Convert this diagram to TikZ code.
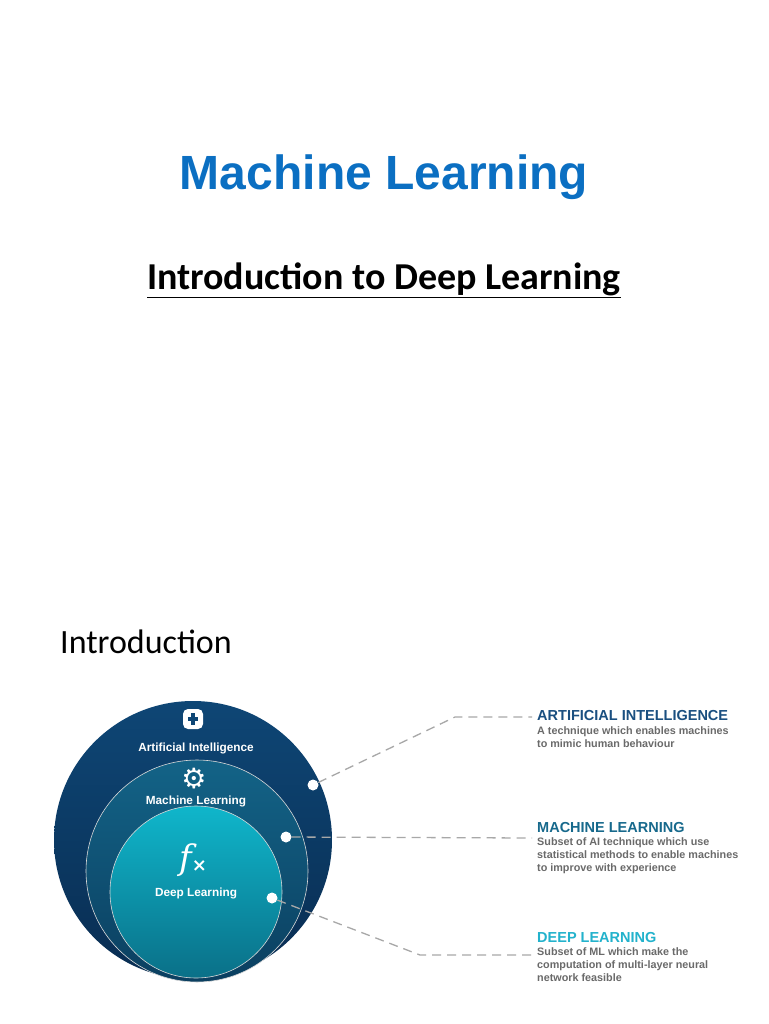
\documentclass[tikz,border=0pt]{standalone}
\usepackage{fontspec}
\setmainfont{Liberation Sans}
\newfontfamily\carl{Carlito}
\newfontfamily\djv{DejaVu Sans}
\newfontfamily\djserif{DejaVu Serif}
\definecolor{titleblue}{HTML}{0B6FC2}
\definecolor{aic}{HTML}{1A4F80}
\definecolor{mlc}{HTML}{17698C}
\definecolor{dlc}{HTML}{22B2CC}
\definecolor{descg}{HTML}{6A6A6A}
\definecolor{lineg}{HTML}{A8A8A8}
\definecolor{aitop}{HTML}{0E4675}
\definecolor{aibot}{HTML}{092D52}
\definecolor{mltop}{HTML}{136387}
\definecolor{mlbot}{HTML}{0B3F60}
\definecolor{dltop}{HTML}{0FB6CB}
\definecolor{dlbot}{HTML}{0A7088}
\tikzset{
 lead/.style={draw=lineg, line width=1.3pt, dash pattern=on 9pt off 6pt},
 dotn/.style={circle, fill=white, minimum size=11pt, inner sep=0pt},
 head/.style={anchor=west, inner sep=0pt, font=\bfseries\fontsize{14.5}{16}\selectfont},
 desc/.style={anchor=north west, inner sep=0pt, align=left, text=descg, font=\bfseries\fontsize{10.8}{13}\selectfont},
 inlab/.style={text=white, font=\bfseries\fontsize{11.8}{13}\selectfont},
 ring/.style={draw=white!85!black, line width=0.6pt},
}
\begin{document}
\begin{tikzpicture}[x=1pt,y=-1pt]
\useasboundingbox (0,0) rectangle (768,1024);
\fill[white] (0,0) rectangle (768,1024);
\node[text=titleblue, font=\bfseries\fontsize{48}{54}\selectfont] (t1) at (384,177) {Machine Learning};
\node[font=\carl\bfseries\fontsize{38}{41}\selectfont] (t2) at (384,280) {\underline{Introduction to Deep Learning}};
\node[anchor=west, inner sep=0pt, font=\carl\fontsize{34}{38}\selectfont] (t3) at (60,642) {Introduction};
% circles
\shade[top color=aitop, bottom color=aibot] (193,840) circle[radius=139];
\shade[top color=mltop, bottom color=mlbot, ring] (197,871) circle[radius=111];
\shade[top color=dltop, bottom color=dlbot, ring] (196,892) circle[radius=86];
% icons
\fill[white, rounded corners=5pt] (183,709) rectangle (203,729);
\fill[aitop] (191,713) rectangle (195,725);
\fill[aitop] (188,717) rectangle (198,721);
\node[text=white, font=\djv\fontsize{28}{28}\selectfont] (gear) at (194,779) {⚙};
\node[text=white, font=\djserif\itshape\fontsize{34}{34}\selectfont] (fx) at (193,860) {f\raisebox{-2pt}{\djv\bfseries\upshape\fontsize{18}{18}\selectfont ×}};
\node[inlab] (lai) at (196,748) {Artificial Intelligence};
\node[inlab] (lml) at (196,801) {Machine Learning};
\node[inlab] (ldl) at (196,893) {Deep Learning};
% dots and leaders
\node[dotn] (dai) at (313,785) {};
\node[dotn] (dml) at (286,837) {};
\node[dotn] (ddl) at (272,898) {};
\coordinate (kai) at (455,717);
\coordinate (eai) at (532,717);
\coordinate (eml) at (532,838);
\coordinate (kdl) at (420,955);
\coordinate (edl) at (533,955);
\draw[lead] (dai) -- (kai) -- (eai);
\draw[lead] (dml) -- (eml);
\draw[lead] (ddl) -- (kdl) -- (edl);
% texts
\node[head, text=aic] (hai) at (537,716) {ARTIFICIAL INTELLIGENCE};
\node[desc] (dsai) at (537,726) {A technique which enables machines\\to mimic human behaviour};
\node[head, text=mlc] (hml) at (537,827) {MACHINE LEARNING};
\node[desc] (dsml) at (537,837) {Subset of AI technique which use\\statistical methods to enable machines\\to improve with experience};
\node[head, text=dlc] (hdl) at (537,937) {DEEP LEARNING};
\node[desc] (dsdl) at (537,947) {Subset of ML which make the\\computation of multi-layer neural\\network feasible};
\end{tikzpicture}
\end{document}
